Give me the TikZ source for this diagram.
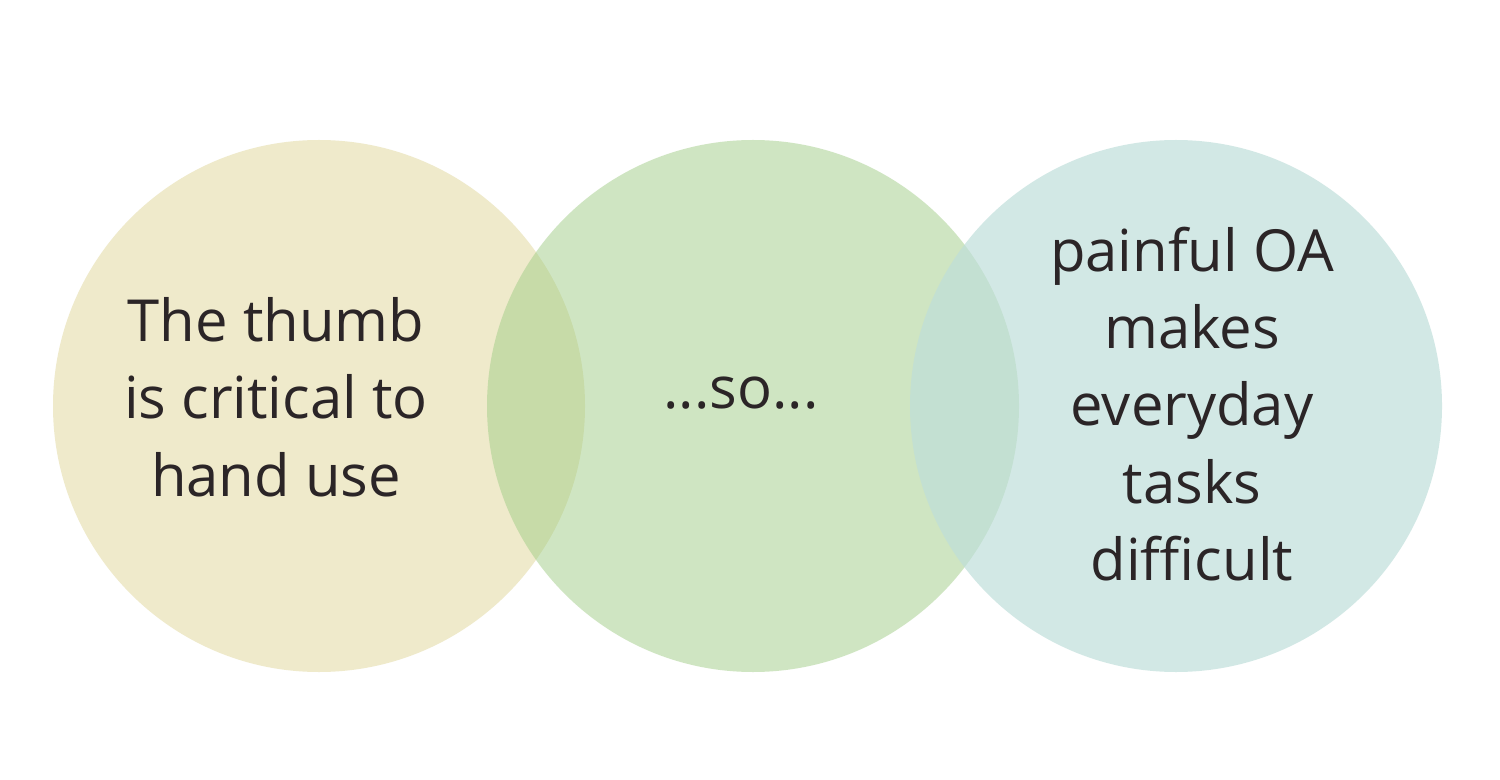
\documentclass[tikz,border=0pt]{standalone}
\usepackage{fontspec}
\setmainfont{Open Sans}
\usetikzlibrary{positioning}
\definecolor{cleft}{HTML}{EFEACB}
\definecolor{cmid}{HTML}{A1CD87}
\definecolor{cright}{HTML}{BEDEDA}
\definecolor{ctext}{HTML}{2B2527}
\begin{document}
\begin{tikzpicture}[
    blob/.style={circle, draw=none, inner sep=0pt, minimum size=10.64cm},
    say/.style={text=ctext, align=center, font=\fontsize{33}{44}\selectfont}
  ]
    \useasboundingbox (0,0) rectangle (30,15.58);
    \fill[white] (0,0) rectangle (30,15.58);
    % the three circles
    \node[blob, fill=cleft] (thumb) at (6.38,7.46) {};
    \node[blob, fill=cmid, fill opacity=0.5] (so) at (15.06,7.46) {};
    \node[blob, fill=cright, fill opacity=0.68] (oa) at (23.52,7.46) {};
    % texts
    \node[say] (thumbtxt) at (5.52,7.64) {The thumb\\is critical to\\hand use};
    \node[say] (sotxt) at (14.82,7.72) {...so...};
    \node[say] (oatxt) at (23.84,7.5) {painful OA\\makes\\everyday\\tasks\\difficult};
  \end{tikzpicture}
\end{document}
